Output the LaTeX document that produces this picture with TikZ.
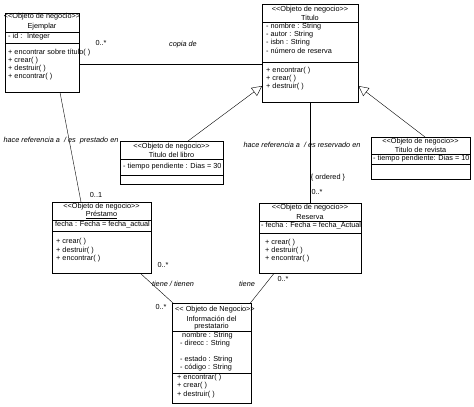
\documentclass[tikz,border=0pt]{standalone}
\usepackage{fontspec}
\setmainfont{Liberation Sans}
\usepackage{tikz}
\usetikzlibrary{positioning, calc, arrows.meta}
\newcommand{\stereo}[1]{{<}{<}#1{>}{>}}
\tikzstyle{classbox}=[draw, thin, inner sep=0pt, anchor=north west]
\tikzstyle{hdr}=[inner sep=0pt, font=\fontsize{7.3}{8}\selectfont]
\tikzstyle{member}=[inner sep=0pt, anchor=west, font=\fontsize{7.3}{8}\selectfont]
\tikzstyle{role}=[inner sep=0pt, font=\fontsize{7.3}{8}\selectfont\itshape]
\tikzstyle{mult}=[inner sep=0pt, font=\fontsize{7.3}{8}\selectfont]
\tikzstyle{line}=[thin]
\tikzstyle{genArrow}=[thin, -{Triangle[open, length=10pt, width=10pt]}]

\begin{document}
\begin{tikzpicture}[x=1pt, y=-1pt]
      \useasboundingbox (0,0) rectangle (474,407);

      % class boxes
      \node[classbox, minimum width=74pt, minimum height=79pt] (ejemplar) at (5,13) {};
      \node[classbox, minimum width=96pt, minimum height=98pt] (titulo) at (262,4) {};
      \node[classbox, minimum width=103pt, minimum height=43pt] (libro) at (120,141) {};
      \node[classbox, minimum width=99pt, minimum height=42pt] (revista) at (371,137) {};
      \node[classbox, minimum width=99pt, minimum height=71pt] (prestamo) at (52,202) {};
      \node[classbox, minimum width=102pt, minimum height=70pt] (reserva) at (259,203) {};
      \node[classbox, minimum width=79pt, minimum height=100pt] (info) at (172,303) {};

      \foreach \n/\d in {ejemplar/19, ejemplar/30, titulo/18, titulo/58, libro/18, libro/34,
        revista/17, revista/27, prestamo/18, prestamo/29, reserva/18, reserva/30, info/28, info/70}{
        \draw[line] ($(\n.north west)+(0,\d)$) -- ($(\n.north east)+(0,\d)$);
      }

      % Ejemplar
      \node[hdr] (ejemplarS) at (42,17) {\stereo{Objeto de negocio}};
      \node[hdr] (ejemplarN) at (42,27) {Ejemplar};
      \node[member] (ejemplarA) at (8,36.5) {- id : \ Integer};
      \node[member] (ejemplarM1) at (8,53) {+ encontrar sobre título( )};
      \node[member] (ejemplarM2) at (8,61) {+ crear( )};
      \node[member] (ejemplarM3) at (8,69) {+ destruir( )};
      \node[member] (ejemplarM4) at (8,77) {+ encontrar( )};

      % Titulo
      \node[hdr] (tituloS) at (310,9.5) {\stereo{Objeto de negocio}};
      \node[hdr] (tituloN) at (310,18) {Titulo};
      \node[member] (tituloA1) at (266,27) {- nombre : String};
      \node[member] (tituloA2) at (266,35) {- autor : String};
      \node[member] (tituloA3) at (266,43) {- isbn : String};
      \node[member] (tituloA4) at (266,51) {- número de reserva};
      \node[member] (tituloM1) at (266,71) {+ encontrar( )};
      \node[member] (tituloM2) at (266,79) {+ crear( )};
      \node[member] (tituloM3) at (266,87) {+ destruir( )};

      % Titulo del libro
      \node[hdr] (libroS) at (171.5,147) {\stereo{Objeto de negocio}};
      \node[hdr] (libroN) at (171.5,155) {Titulo del libro};
      \node[member] (libroA) at (123,167) {- tiempo pendiente : Dias = 30};

      % Titulo de revista
      \node[hdr] (revistaS) at (420.5,142) {\stereo{Objeto de negocio}};
      \node[hdr] (revistaN) at (420.5,150) {Titulo de revista};
      \node[member] (revistaA) at (373,158.5) {- tiempo pendiente: Dias = 10};

      % Prestamo
      \node[hdr] (prestamoS) at (101.5,207) {\stereo{Objeto de negocio}};
      \node[hdr] (prestamoN) at (101.5,215) {\underline{Préstamo}};
      \node[member] (prestamoA) at (55,224.5) {fecha : Fecha = fecha\_actual};
      \node[member] (prestamoM1) at (56,242) {+ crear( )};
      \node[member] (prestamoM2) at (56,250.5) {+ destruir( )};
      \node[member] (prestamoM3) at (56,259) {+ encontrar( )};

      % Reserva
      \node[hdr] (reservaS) at (310,208) {\stereo{Objeto de negocio}};
      \node[hdr] (reservaN) at (310,217) {Reserva};
      \node[member] (reservaA) at (261,226) {- fecha : Fecha = fecha\_Actual};
      \node[member] (reservaM1) at (265,243) {+ crear( )};
      \node[member] (reservaM2) at (265,251) {+ destruir( )};
      \node[member] (reservaM3) at (265,259) {+ encontrar( )};

      % Informacion del prestatario
      \node[hdr] (infoS) at (215,310) {\stereo{ Objeto de Negocio}};
      \node[hdr] (infoN1) at (211.5,318.5) {Información del};
      \node[hdr] (infoN2) at (211.5,327) {prestatario};
      \node[member] (infoA1) at (182,336) {nombre : String};
      \node[member] (infoA2) at (180,344) {- direcc : String};
      \node[member] (infoA3) at (180,360) {- estado : String};
      \node[member] (infoA4) at (180,368) {- código : String};
      \node[member] (infoM1) at (177,378) {+ encontrar( )};
      \node[member] (infoM2) at (177,386) {+ crear( )};
      \node[member] (infoM3) at (177,395) {+ destruir( )};

      % connector ends
      \coordinate (copiaA) at ($(ejemplar.north east)+(0,51)$);
      \coordinate (copiaB) at (copiaA -| titulo.west);
      \coordinate (refA) at ($(ejemplar.south west)+(55,0)$);
      \coordinate (refB) at ($(prestamo.north west)+(29,0)$);
      \coordinate (libroT) at ($(libro.north west)+(68,0)$);
      \coordinate (genL) at ($(titulo.north west)+(0,82)$);
      \coordinate (revistaT) at ($(revista.north west)+(54,0)$);
      \coordinate (genR) at ($(titulo.north east)+(0,82)$);
      \coordinate (prestamoB) at ($(prestamo.south east)+(-11,0)$);
      \coordinate (infoL) at ($(info.north west)+(1,0)$);
      \coordinate (reservaB) at ($(reserva.south west)+(15,0)$);
      \coordinate (infoR) at ($(info.north east)+(-1,0)$);

      \draw[line] (copiaA) -- (copiaB);
      \draw[line] (refA) -- (refB);
      \draw[line] (titulo.south) -- (reserva.north);
      \draw[genArrow] (libroT) -- (genL);
      \draw[genArrow] (revistaT) -- (genR);
      \draw[line] (prestamoB) -- (infoL);
      \draw[line] (reservaB) -- (infoR);

      % labels
      \node[mult] (copiaM) at (101,43) {0..*};
      \node[role] (copiaR) at (183,45) {copia de};
      \node[role] (prestadoR) at (61,141) {hace referencia a \ / es \ prestado en};
      \node[mult] (prestadoM) at (96,195) {0..1};
      \node[role] (reservadoR) at (302,145) {hace referencia a \ / es reservado en};
      \node[mult] (orderedL) at (328,178) {\{ ordered \}};
      \node[mult] (reservadoM) at (317,192) {0..*};
      \node[mult] (tieneM1) at (163,265) {0..*};
      \node[role] (tieneR1) at (173,284) {tiene / tienen};
      \node[mult] (tieneM2) at (161,307) {0..*};
      \node[role] (tieneR2) at (247,284) {tiene};
      \node[mult] (tieneM3) at (283,279) {0..*};
\end{tikzpicture}
\end{document}
